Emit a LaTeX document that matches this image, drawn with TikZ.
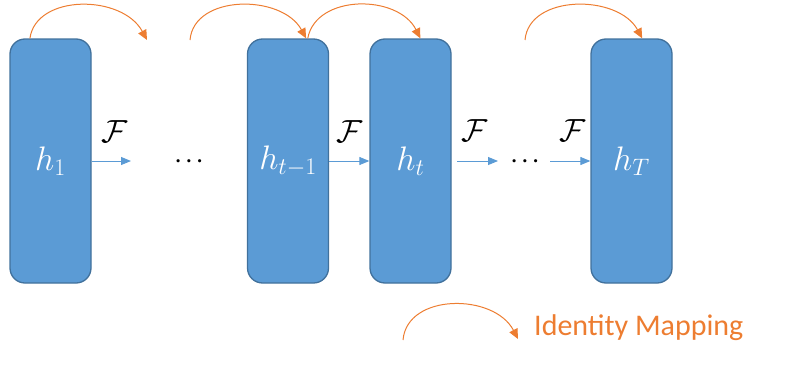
\RequirePackage{fix-cm}
\documentclass[tikz,border=0pt]{standalone}
\usepackage{fontspec}
\newfontfamily\legendfont{Carlito}
\usetikzlibrary{arrows.meta,calc}
\definecolor{boxfill}{HTML}{5B9BD5}
\definecolor{boxline}{HTML}{41719C}
\definecolor{idorange}{HTML}{ED7D31}
\tikzset{
  layer/.style={draw=boxline, fill=boxfill, line width=1.3pt, rounded corners=15pt,
    minimum width=81pt, minimum height=244pt, inner sep=0pt, text=white,
    font=\fontsize{34}{40}\selectfont},
  flow/.style={draw=boxfill, line width=1pt, -{Triangle[length=10pt,width=8pt]}},
  skip/.style={draw=idorange, line width=1pt, -{Triangle[length=10pt,width=9pt]}},
  flabel/.style={font=\fontsize{32}{36}\selectfont, inner sep=0pt},
  dotsnode/.style={font=\fontsize{21}{24}\selectfont\boldmath, inner sep=0pt},
}
\newcommand{\lowered}[1]{\raisebox{-3pt}{#1}}
\begin{document}
\begin{tikzpicture}[x=1pt,y=-1pt]
\useasboundingbox (0,0) rectangle (797,364);
% layers
\node[layer] (b1) at (50.5,161) {\lowered{$h_1$}};
\node[layer] (b2) at (288,161) {\lowered{$h_{t-1}$}};
\node[layer] (b3) at (410.5,161) {\lowered{$h_t$}};
\node[layer] (b4) at (631.5,161) {\lowered{$h_T$}};
% free ends
\coordinate (s1) at ($(b1.north west)!0.25!(b1.north east)$);
\coordinate (e1) at (147,40);
\coordinate (s2) at (190,40);
\coordinate (e2) at ($(b2.north west)!0.72!(b2.north east)$);
\coordinate (s3) at ($(b2.north west)!0.74!(b2.north east)$);
\coordinate (e3) at ($(b3.north west)!0.62!(b3.north east)$);
\coordinate (s4) at (525,40);
\coordinate (e4) at ($(b4.north west)!0.63!(b4.north east)$);
\coordinate (ls) at (403,340);
\coordinate (le) at (518,339);
% identity mappings
\draw[skip] (s1) .. controls (36,-6) and (122,-6) .. (e1);
\draw[skip] (s2) .. controls (194,-6) and (282,-6) .. (e2);
\draw[skip] (s3) .. controls (316,-6) and (398,-6) .. (e3);
\draw[skip] (s4) .. controls (529,-6) and (618,-6) .. (e4);
\draw[skip] (ls) .. controls (407,293) and (494,293) .. (le);
% dots
\node[dotsnode] (d1) at (189,162) {$\cdots$};
\node[dotsnode] (d2) at (525,162) {$\cdots$};
% flow arrows
\coordinate (a1) at (131,161);
\coordinate (a3s) at (457,161);
\coordinate (a3) at (498,161);
\coordinate (a4s) at (550,161);
\draw[flow] (b1.east) -- (a1);
\draw[flow] (b2.east) -- (b3.west);
\draw[flow] (a3s) -- (a3);
\draw[flow] (a4s) -- (b4.west);
% F labels
\node[flabel] (f1) at (115,132) {$\mathcal{F}$};
\node[flabel] (f2) at (350,132) {$\mathcal{F}$};
\node[flabel] (f3) at (475,131) {$\mathcal{F}$};
\node[flabel] (f4) at (573,131) {$\mathcal{F}$};
% legend
\node[anchor=west, text=idorange, font=\legendfont\fontsize{30}{34}\selectfont, inner sep=0pt] (leg) at (534,328) {Identity Mapping};
\end{tikzpicture}
\end{document}
